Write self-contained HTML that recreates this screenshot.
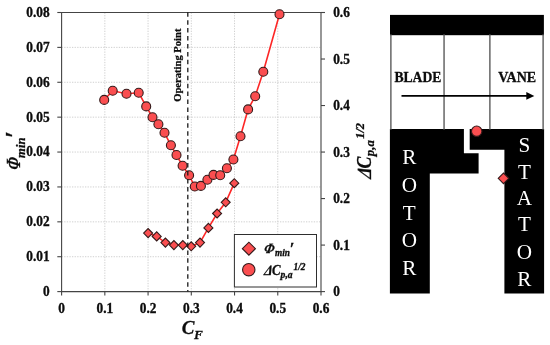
<!DOCTYPE html>
<html lang="en"><head><meta charset="utf-8"><title>Figure</title>
<style>html,body{margin:0;padding:0;background:#fff}body{width:550px;height:345px;overflow:hidden}</style>
</head><body>
<svg width="550" height="345" viewBox="0 0 550 345" style="display:block">
<rect width="550" height="345" fill="#fff"/>
<g stroke="#cbcbcb" stroke-width="0.9" stroke-dasharray="1.3 1.3" fill="none">
<line x1="61.6" x2="321.0" y1="256.71" y2="256.71"/>
<line x1="61.6" x2="321.0" y1="221.83" y2="221.83"/>
<line x1="61.6" x2="321.0" y1="186.94" y2="186.94"/>
<line x1="61.6" x2="321.0" y1="152.05" y2="152.05"/>
<line x1="61.6" x2="321.0" y1="117.16" y2="117.16"/>
<line x1="61.6" x2="321.0" y1="82.28" y2="82.28"/>
<line x1="61.6" x2="321.0" y1="47.39" y2="47.39"/>
<line x1="104.83" x2="104.83" y1="12.5" y2="291.6"/>
<line x1="148.07" x2="148.07" y1="12.5" y2="291.6"/>
<line x1="191.30" x2="191.30" y1="12.5" y2="291.6"/>
<line x1="234.53" x2="234.53" y1="12.5" y2="291.6"/>
<line x1="277.77" x2="277.77" y1="12.5" y2="291.6"/>
</g>
<g stroke="#444" stroke-width="1.1" fill="none">
<path d="M61.6 12.5H321.0V291.6H61.6Z"/>
<line x1="57.300000000000004" x2="61.6" y1="291.60" y2="291.60"/>
<line x1="57.300000000000004" x2="61.6" y1="256.71" y2="256.71"/>
<line x1="57.300000000000004" x2="61.6" y1="221.83" y2="221.83"/>
<line x1="57.300000000000004" x2="61.6" y1="186.94" y2="186.94"/>
<line x1="57.300000000000004" x2="61.6" y1="152.05" y2="152.05"/>
<line x1="57.300000000000004" x2="61.6" y1="117.16" y2="117.16"/>
<line x1="57.300000000000004" x2="61.6" y1="82.28" y2="82.28"/>
<line x1="57.300000000000004" x2="61.6" y1="47.39" y2="47.39"/>
<line x1="57.300000000000004" x2="61.6" y1="12.50" y2="12.50"/>
<line x1="321.0" x2="325.0" y1="291.60" y2="291.60"/>
<line x1="321.0" x2="325.0" y1="245.08" y2="245.08"/>
<line x1="321.0" x2="325.0" y1="198.57" y2="198.57"/>
<line x1="321.0" x2="325.0" y1="152.05" y2="152.05"/>
<line x1="321.0" x2="325.0" y1="105.53" y2="105.53"/>
<line x1="321.0" x2="325.0" y1="59.02" y2="59.02"/>
<line x1="321.0" x2="325.0" y1="12.50" y2="12.50"/>
<line x1="61.60" x2="61.60" y1="291.6" y2="295.5"/>
<line x1="104.83" x2="104.83" y1="291.6" y2="295.5"/>
<line x1="148.07" x2="148.07" y1="291.6" y2="295.5"/>
<line x1="191.30" x2="191.30" y1="291.6" y2="295.5"/>
<line x1="234.53" x2="234.53" y1="291.6" y2="295.5"/>
<line x1="277.77" x2="277.77" y1="291.6" y2="295.5"/>
<line x1="321.00" x2="321.00" y1="291.6" y2="295.5"/>
</g>
<g font-family="'Liberation Serif', serif" font-weight="bold" fill="#0c0c0c" stroke="#0c0c0c" stroke-width="0.35">
<text transform="translate(49.6 296.0) scale(0.94 1)" font-size="14.2px" text-anchor="end">0</text>
<text transform="translate(49.6 261.11) scale(0.94 1)" font-size="14.2px" text-anchor="end">0.01</text>
<text transform="translate(49.6 226.23) scale(0.94 1)" font-size="14.2px" text-anchor="end">0.02</text>
<text transform="translate(49.6 191.34) scale(0.94 1)" font-size="14.2px" text-anchor="end">0.03</text>
<text transform="translate(49.6 156.45) scale(0.94 1)" font-size="14.2px" text-anchor="end">0.04</text>
<text transform="translate(49.6 121.56) scale(0.94 1)" font-size="14.2px" text-anchor="end">0.05</text>
<text transform="translate(49.6 86.68) scale(0.94 1)" font-size="14.2px" text-anchor="end">0.06</text>
<text transform="translate(49.6 51.79) scale(0.94 1)" font-size="14.2px" text-anchor="end">0.07</text>
<text transform="translate(49.6 16.9) scale(0.94 1)" font-size="14.2px" text-anchor="end">0.08</text>
<text transform="translate(333.2 296.4) scale(0.94 1)" font-size="14.2px">0</text>
<text transform="translate(333.2 249.88) scale(0.94 1)" font-size="14.2px">0.1</text>
<text transform="translate(333.2 203.37) scale(0.94 1)" font-size="14.2px">0.2</text>
<text transform="translate(333.2 156.85) scale(0.94 1)" font-size="14.2px">0.3</text>
<text transform="translate(333.2 110.33) scale(0.94 1)" font-size="14.2px">0.4</text>
<text transform="translate(333.2 63.82) scale(0.94 1)" font-size="14.2px">0.5</text>
<text transform="translate(333.2 17.3) scale(0.94 1)" font-size="14.2px">0.6</text>
<text transform="translate(61.6 312.7) scale(0.94 1)" font-size="14.2px" text-anchor="middle">0</text>
<text transform="translate(104.83 312.7) scale(0.94 1)" font-size="14.2px" text-anchor="middle">0.1</text>
<text transform="translate(148.07 312.7) scale(0.94 1)" font-size="14.2px" text-anchor="middle">0.2</text>
<text transform="translate(191.3 312.7) scale(0.94 1)" font-size="14.2px" text-anchor="middle">0.3</text>
<text transform="translate(234.53 312.7) scale(0.94 1)" font-size="14.2px" text-anchor="middle">0.4</text>
<text transform="translate(277.77 312.7) scale(0.94 1)" font-size="14.2px" text-anchor="middle">0.5</text>
<text transform="translate(321.0 312.7) scale(0.94 1)" font-size="14.2px" text-anchor="middle">0.6</text>
</g>
<g font-family="'Liberation Serif', serif" font-weight="bold" fill="#0c0c0c" stroke="#0c0c0c" stroke-width="0.25">
<text transform="translate(181.2 101.8) rotate(-90)" font-size="10.6px">Operating Point</text>
</g>
<polyline points="104.2,99.9 112.7,90.8 126.5,93.8 138.7,92.8 146.2,106.4 152.5,117.2 158.4,124.3 164.5,132.8 170.9,145.3 176.5,155.0 182.6,165.8 189.1,175.3 194.8,186.5 200.9,185.9 207.4,179.8 213.5,174.9 220.2,175.3 226.9,168.2 233.4,159.5 240.5,136.3 248.1,109.4 255.2,96.2 263.3,71.8 279.5,14.3" fill="none" stroke="#fd2626" stroke-width="1.6"/>
<polyline points="148.1,233.1 156.7,236.4 165.4,242.6 173.9,245.1 182.8,245.1 191.2,246.3 200,242.6 208.4,227.9 217.1,213.5 225.7,202.3 234.3,183.2" fill="none" stroke="#fd2626" stroke-width="1.6"/>
<g fill="#fa4e50" stroke="#331a1a" stroke-width="1.1">
<circle cx="104.2" cy="99.9" r="4.5"/>
<circle cx="112.7" cy="90.8" r="4.5"/>
<circle cx="126.5" cy="93.8" r="4.5"/>
<circle cx="138.7" cy="92.8" r="4.5"/>
<circle cx="146.2" cy="106.4" r="4.5"/>
<circle cx="152.5" cy="117.2" r="4.5"/>
<circle cx="158.4" cy="124.3" r="4.5"/>
<circle cx="164.5" cy="132.8" r="4.5"/>
<circle cx="170.9" cy="145.3" r="4.5"/>
<circle cx="176.5" cy="155.0" r="4.5"/>
<circle cx="182.6" cy="165.8" r="4.5"/>
<circle cx="189.1" cy="175.3" r="4.5"/>
<circle cx="194.8" cy="186.5" r="4.5"/>
<circle cx="200.9" cy="185.9" r="4.5"/>
<circle cx="207.4" cy="179.8" r="4.5"/>
<circle cx="213.5" cy="174.9" r="4.5"/>
<circle cx="220.2" cy="175.3" r="4.5"/>
<circle cx="226.9" cy="168.2" r="4.5"/>
<circle cx="233.4" cy="159.5" r="4.5"/>
<circle cx="240.5" cy="136.3" r="4.5"/>
<circle cx="248.1" cy="109.4" r="4.5"/>
<circle cx="255.2" cy="96.2" r="4.5"/>
<circle cx="263.3" cy="71.8" r="4.5"/>
<circle cx="279.5" cy="14.3" r="4.5"/>
<path d="M143.6 233.1L148.1 228.6L152.6 233.1L148.1 237.6Z"/>
<path d="M152.2 236.4L156.7 231.9L161.2 236.4L156.7 240.9Z"/>
<path d="M160.9 242.6L165.4 238.1L169.9 242.6L165.4 247.1Z"/>
<path d="M169.4 245.1L173.9 240.6L178.4 245.1L173.9 249.6Z"/>
<path d="M178.3 245.1L182.8 240.6L187.3 245.1L182.8 249.6Z"/>
<path d="M186.7 246.3L191.2 241.8L195.7 246.3L191.2 250.8Z"/>
<path d="M195.5 242.6L200 238.1L204.5 242.6L200 247.1Z"/>
<path d="M203.9 227.9L208.4 223.4L212.9 227.9L208.4 232.4Z"/>
<path d="M212.6 213.5L217.1 209.0L221.6 213.5L217.1 218.0Z"/>
<path d="M221.2 202.3L225.7 197.8L230.2 202.3L225.7 206.8Z"/>
<path d="M229.8 183.2L234.3 178.7L238.8 183.2L234.3 187.7Z"/>
</g>
<line x1="187.8" x2="187.8" y1="12.2" y2="291.6" stroke="#1a1a1a" stroke-width="1.3" stroke-dasharray="4.5 3.44"/>
<rect x="234.4" y="234.5" width="82.1" height="52.5" fill="#fff" stroke="#2e2e2e" stroke-width="1"/>
<g fill="#fa4e50" stroke="#331a1a" stroke-width="1.1">
<path d="M242.4 248.7L248.9 242.2L255.4 248.7L248.9 255.2Z"/>
<circle cx="248.75" cy="269.7" r="6.2"/>
</g>
<g font-family="'Liberation Serif', serif" font-weight="bold" font-style="italic" fill="#0c0c0c" stroke="#0c0c0c" stroke-width="0.3">
<text transform="translate(263.4 253) scale(0.92 1) skewX(-12)" font-size="14px">Φ</text>
<text transform="translate(274.9 256)" font-size="9.3px">min</text>
<text transform="translate(289.6 254)" font-size="17px">′</text>
<text transform="translate(263.8 274.8) scale(0.92 1) skewX(-14)" font-size="14px">Δ</text>
<text transform="translate(272.0 274.8) scale(0.92 1)" font-size="14px">C</text>
<text transform="translate(280.6 277.8)" font-size="9.6px">p,a</text>
<text transform="translate(293.6 270.4)" font-size="9.3px">1/2</text>
<text transform="translate(181.8 334.3)" font-size="19px">C</text>
<text transform="translate(194 339.4)" font-size="13.3px">F</text>
<text transform="translate(20.3 170.6) rotate(-90) scale(0.78 1) skewX(-12)" font-size="20px">Φ</text>
<text transform="translate(24.7 157.9) rotate(-90)" font-size="12.6px">min</text>
<text transform="translate(23.3 138.2) rotate(-90)" font-size="25px">′</text>
<text transform="translate(370.5 179.0) rotate(-90) scale(0.85 1) skewX(-14)" font-size="20px">Δ</text>
<text transform="translate(370.5 168.5) rotate(-90) scale(0.88 1)" font-size="20px">C</text>
<text transform="translate(374.1 156.2) rotate(-90)" font-size="12.8px">p,a</text>
<text transform="translate(364.4 138.8) rotate(-90)" font-size="12.4px">1/2</text>
</g>
<g fill="#000">
<rect x="390" y="14.9" width="153.9" height="20.3"/>
<path d="M389.9 129.1H463.9V153.2H478.6V173.6H429.8V293.5H389.9Z"/>
<path d="M469.7 129.1H544.1V293.5H504.4V149.7H469.7Z"/>
</g>
<g stroke="#474747" stroke-width="1.25">
<line x1="390.9" x2="390.9" y1="34" y2="130"/>
<line x1="444.05" x2="444.05" y1="34" y2="130"/>
<line x1="489.9" x2="489.9" y1="34" y2="130"/>
<line x1="543.1" x2="543.1" y1="34" y2="130"/>
</g>
<g font-family="'Liberation Serif', serif" font-weight="bold" fill="#0c0c0c" stroke="#0c0c0c" stroke-width="0.3">
<text transform="translate(394.4 82.1) scale(0.91 1)" font-size="15px">BLADE</text>
<text transform="translate(498.3 82.1) scale(0.935 1)" font-size="15px">VANE</text>
</g>
<line x1="401.5" x2="528" y1="95.9" y2="95.9" stroke="#000" stroke-width="1.6"/>
<path d="M526.3 92.1L534.3 95.9L526.3 99.7Z" fill="#000"/>
<g font-family="'Liberation Serif', serif" fill="#fff">
<text transform="translate(409.3 164) scale(1.06 1)" font-size="20px" text-anchor="middle">R</text>
<text transform="translate(409.3 191.9) scale(1.06 1)" font-size="20px" text-anchor="middle">O</text>
<text transform="translate(409.3 219.6) scale(1.06 1)" font-size="20px" text-anchor="middle">T</text>
<text transform="translate(409.3 246.7) scale(1.06 1)" font-size="20px" text-anchor="middle">O</text>
<text transform="translate(409.3 275) scale(1.06 1)" font-size="20px" text-anchor="middle">R</text>
<text transform="translate(524.4 151.5) scale(1.06 1)" font-size="20px" text-anchor="middle">S</text>
<text transform="translate(524.4 179.2) scale(1.06 1)" font-size="20px" text-anchor="middle">T</text>
<text transform="translate(524.4 205.4) scale(1.06 1)" font-size="20px" text-anchor="middle">A</text>
<text transform="translate(524.4 231.2) scale(1.06 1)" font-size="20px" text-anchor="middle">T</text>
<text transform="translate(524.4 258.5) scale(1.06 1)" font-size="20px" text-anchor="middle">O</text>
<text transform="translate(524.4 286.2) scale(1.06 1)" font-size="20px" text-anchor="middle">R</text>
</g>
<g fill="#fa4e50" stroke="#331a1a" stroke-width="1.1">
<circle cx="476.7" cy="131.2" r="5.2"/>
<path d="M498.2 178.3L503.5 173.0L508.8 178.3L503.5 183.60000000000002Z"/>
</g>
</svg>
</body></html>
